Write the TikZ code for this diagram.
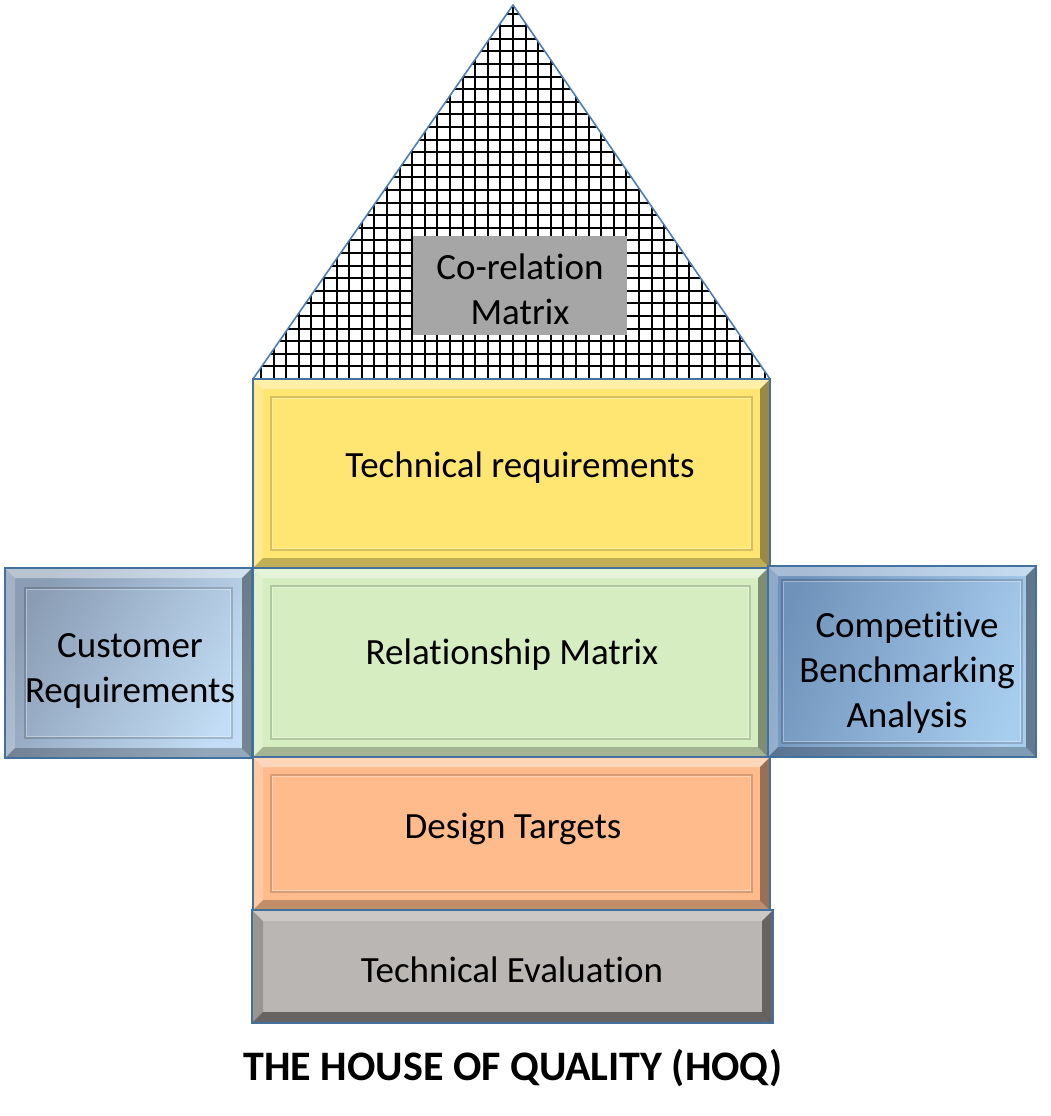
\documentclass[tikz,border=0pt]{standalone}
\usepackage{fontspec}
\setmainfont{Carlito}[Ligatures=NoCommon]
\definecolor{roofline}{HTML}{4A7EBB}
\definecolor{boxline}{HTML}{41719C}
\definecolor{corgray}{HTML}{A6A6A6}
\definecolor{techyellow}{HTML}{FFE571}
\definecolor{relgreen}{HTML}{D5EDC1}
\definecolor{designorange}{HTML}{FFBB8C}
\definecolor{evalgray}{HTML}{BAB6B4}
\definecolor{custdark}{HTML}{8A9DB5}
\definecolor{custlight}{HTML}{C2DDF5}
\definecolor{compdark}{HTML}{6F92BA}
\definecolor{complight}{HTML}{A8CEEF}
\newcommand\hoqfont{\fontsize{37}{45}\selectfont}
% bevel overlays: x1 y1 x2 y2 width
\newcommand\hoqbevel[5]{%
  \fill[white,opacity=.40] (#1,#2) -- (#3,#2) -- ({#3-#5},{#2+#5}) -- ({#1+#5},{#2+#5}) -- cycle;
  \fill[white,opacity=.22] (#1,#2) -- ({#1+#5},{#2+#5}) -- ({#1+#5},{#4-#5}) -- (#1,#4) -- cycle;
  \fill[black,opacity=.40] (#3,#2) -- (#3,#4) -- ({#3-#5},{#4-#5}) -- ({#3-#5},{#2+#5}) -- cycle;
  \fill[black,opacity=.24] (#1,#4) -- (#3,#4) -- ({#3-#5},{#4-#5}) -- ({#1+#5},{#4-#5}) -- cycle;
}
\newcommand\hoqinner[5]{%
  \draw[black,opacity=.16,line width=1.4] ({#1+#5},{#2+#5}) rectangle ({#3-#5},{#4-#5});
  \draw[white,opacity=.35,line width=1] ({#1+#5+1.5},{#2+#5+1.5}) rectangle ({#3-#5-1.5},{#4-#5-1.5});
}
\tikzset{
  boxedge/.style={draw=boxline,line width=1.3},
  label/.style={font=\hoqfont,align=center,inner sep=0pt,text=black},
  gridline/.style={black,line width=2.1},
}
\begin{document}
\begin{tikzpicture}[x=1pt,y=-1pt]
\useasboundingbox (0,0) rectangle (1050,1116);
% roof grid
\begin{scope}
\clip (513,5) -- (770,379) -- (253,379) -- cycle;
\fill[white] (240,0) rectangle (790,380);
\foreach \i in {-21,...,21} \draw[gridline] ({513+\i*12.6},0) -- ({513+\i*12.6},390);
\foreach \j in {0,...,31} \draw[gridline] (240,{379-\j*12.6}) -- (790,{379-\j*12.6});
\end{scope}
\draw[roofline,line width=1.6,line join=round] (513,5) -- (770,379) -- (253,379) -- cycle;
\node[label,fill=corgray,minimum width=214pt,minimum height=99pt] (corel) at (520,285.5) {};
\node[label] (coreltext) at (520,289) {Co-relation\\Matrix};
% technical requirements
\fill[techyellow] (253,379) rectangle (770,568);
\hoqbevel{253}{379}{770}{568}{10}
\hoqinner{253}{379}{770}{568}{18}
\draw[boxedge] (253,379) rectangle (770,568);
\node[label] (techreq) at (520,468) {Technical requirements};
% design targets
\fill[designorange] (253,757) rectangle (770,910);
\hoqbevel{253}{757}{770}{910}{10}
\hoqinner{253}{757}{770}{910}{18}
\draw[boxedge] (253,757) rectangle (770,910);
\node[label] (design) at (513,829) {Design Targets};
% relationship matrix
\fill[relgreen] (253,568) rectangle (768,757);
\hoqbevel{253}{568}{768}{757}{10}
\hoqinner{253}{568}{768}{757}{18}
\draw[boxedge] (253,568) rectangle (768,757);
\node[label] (relmat) at (512,655) {Relationship Matrix};
% customer requirements
\shade[left color=custdark,right color=custlight,shading angle=60] (5,568) rectangle (252,758);
\hoqbevel{5}{568}{252}{758}{10}
\hoqinner{5}{568}{252}{758}{20}
\draw[boxedge] (5,568) rectangle (252,758);
\node[label] (custreq) at (130,671) {Customer\\Requirements};
% competitive benchmarking
\shade[left color=compdark,right color=complight,shading angle=70] (768,566) rectangle (1036,757);
\hoqbevel{768}{566}{1036}{757}{10}
\hoqinner{768}{566}{1036}{757}{14}
\draw[boxedge] (768,566) rectangle (1036,757);
\node[label] (compbench) at (907,673) {Competitive\\Benchmarking\\Analysis};
% technical evaluation
\fill[evalgray] (252,910) rectangle (773,1023);
\fill[white,opacity=.25] (252,910) -- (773,910) -- (762,921) -- (263,921) -- cycle;
\fill[black,opacity=.18] (252,910) -- (263,921) -- (263,1012) -- (252,1023) -- cycle;
\fill[black,opacity=.45] (773,910) -- (773,1023) -- (762,1012) -- (762,921) -- cycle;
\fill[black,opacity=.45] (252,1023) -- (773,1023) -- (762,1012) -- (263,1012) -- cycle;
\draw[boxedge] (252,910) rectangle (773,1023);
\node[label] (techeval) at (512,970) {Technical Evaluation};
% title
\node[font=\fontsize{42}{50}\selectfont\bfseries,inner sep=0pt] (title) at (513,1068) {THE HOUSE OF QUALITY (HOQ)};
\end{tikzpicture}
\end{document}
